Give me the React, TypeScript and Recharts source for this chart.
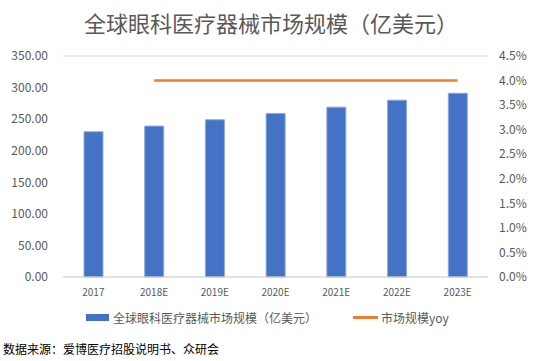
import React from 'react';
import { ComposedChart, Bar, Line, XAxis, YAxis, CartesianGrid } from 'recharts';

const years = ['2017', '2018E', '2019E', '2020E', '2021E', '2022E', '2023E'];
const marketSize = [230, 239, 249, 259, 269, 280, 291];
const marketYoy = [null, 0.04, 0.04, 0.04, 0.04, 0.04, 0.04];
const leftTicks = [0, 50, 100, 150, 200, 250, 300, 350];
const rightTicks = [0, 0.005, 0.01, 0.015, 0.02, 0.025, 0.03, 0.035, 0.04, 0.045];

const TITLE = '全球眼科医疗器械市场规模（亿美元）';
const BAR_NAME = '全球眼科医疗器械市场规模（亿美元）';
const LINE_NAME = '市场规模yoy';
const SOURCE = '数据来源：爱博医疗招股说明书、众研会';

const BLUE = '#4472C4';
const ORANGE = '#ED7D31';
const FONT = '"Noto Sans CJK SC", "DejaVu Sans", sans-serif';

export default function App() {
  const data = years.map((year, i) => ({
    year,
    size: marketSize[i],
    yoy: marketYoy[i],
  }));

  return (
    <div style={{ position: 'absolute', left: 0, top: 0, width: 542, height: 361, background: '#fff', fontFamily: FONT }}>
      <div style={{ position: 'absolute', top: 8, left: 0, width: 542, textAlign: 'center', fontSize: 22, color: '#595959', lineHeight: '28px' }}>
        {TITLE}
      </div>

      <ComposedChart width={542} height={361} data={data} margin={{ top: 56, right: 8, left: 8, bottom: 64 }}>
        <CartesianGrid vertical={false} stroke="#d9d9d9" />
        <XAxis
          dataKey="year"
          axisLine={{ stroke: '#d9d9d9' }}
          tickLine={false}
          height={20}
          tick={{ fill: '#595959', fontSize: 10, fontFamily: FONT }}
          tickMargin={6}
        />
        <YAxis
          yAxisId="left"
          domain={[0, 350]}
          ticks={leftTicks}
          width={55}
          axisLine={false}
          tickLine={false}
          tickFormatter={(v: number) => v.toFixed(2)}
          tick={{ fill: '#595959', fontSize: 12, fontFamily: FONT, dx: -7 }}
        />
        <YAxis
          yAxisId="right"
          orientation="right"
          domain={[0, 0.045]}
          ticks={rightTicks}
          width={46}
          axisLine={false}
          tickLine={false}
          tickFormatter={(v: number) => `${(v * 100).toFixed(1)}%`}
          tick={{ fill: '#595959', fontSize: 12, fontFamily: FONT, dx: 3 }}
        />
        <Bar yAxisId="left" dataKey="size" name={BAR_NAME} fill={BLUE} stroke="#8EAADB" strokeWidth={1} barSize={19} isAnimationActive={false} />
        <Line yAxisId="right" dataKey="yoy" name={LINE_NAME} stroke={ORANGE} strokeWidth={2.5} dot={false} connectNulls={false} isAnimationActive={false} />
      </ComposedChart>

      <div style={{ position: 'absolute', top: 309, left: 86, display: 'flex', alignItems: 'center', fontSize: 12, color: '#595959' }}>
        <span style={{ display: 'inline-block', width: 23, height: 7, background: BLUE, marginRight: 4 }} />
        <span>{BAR_NAME}</span>
        <span style={{ display: 'inline-block', width: 25, height: 3, background: ORANGE, marginLeft: 36, marginRight: 3 }} />
        <span>{LINE_NAME}</span>
      </div>

      <div style={{ position: 'absolute', top: 340, left: 3, fontSize: 12, color: '#000' }}>
        {SOURCE}
      </div>
    </div>
  );
}
